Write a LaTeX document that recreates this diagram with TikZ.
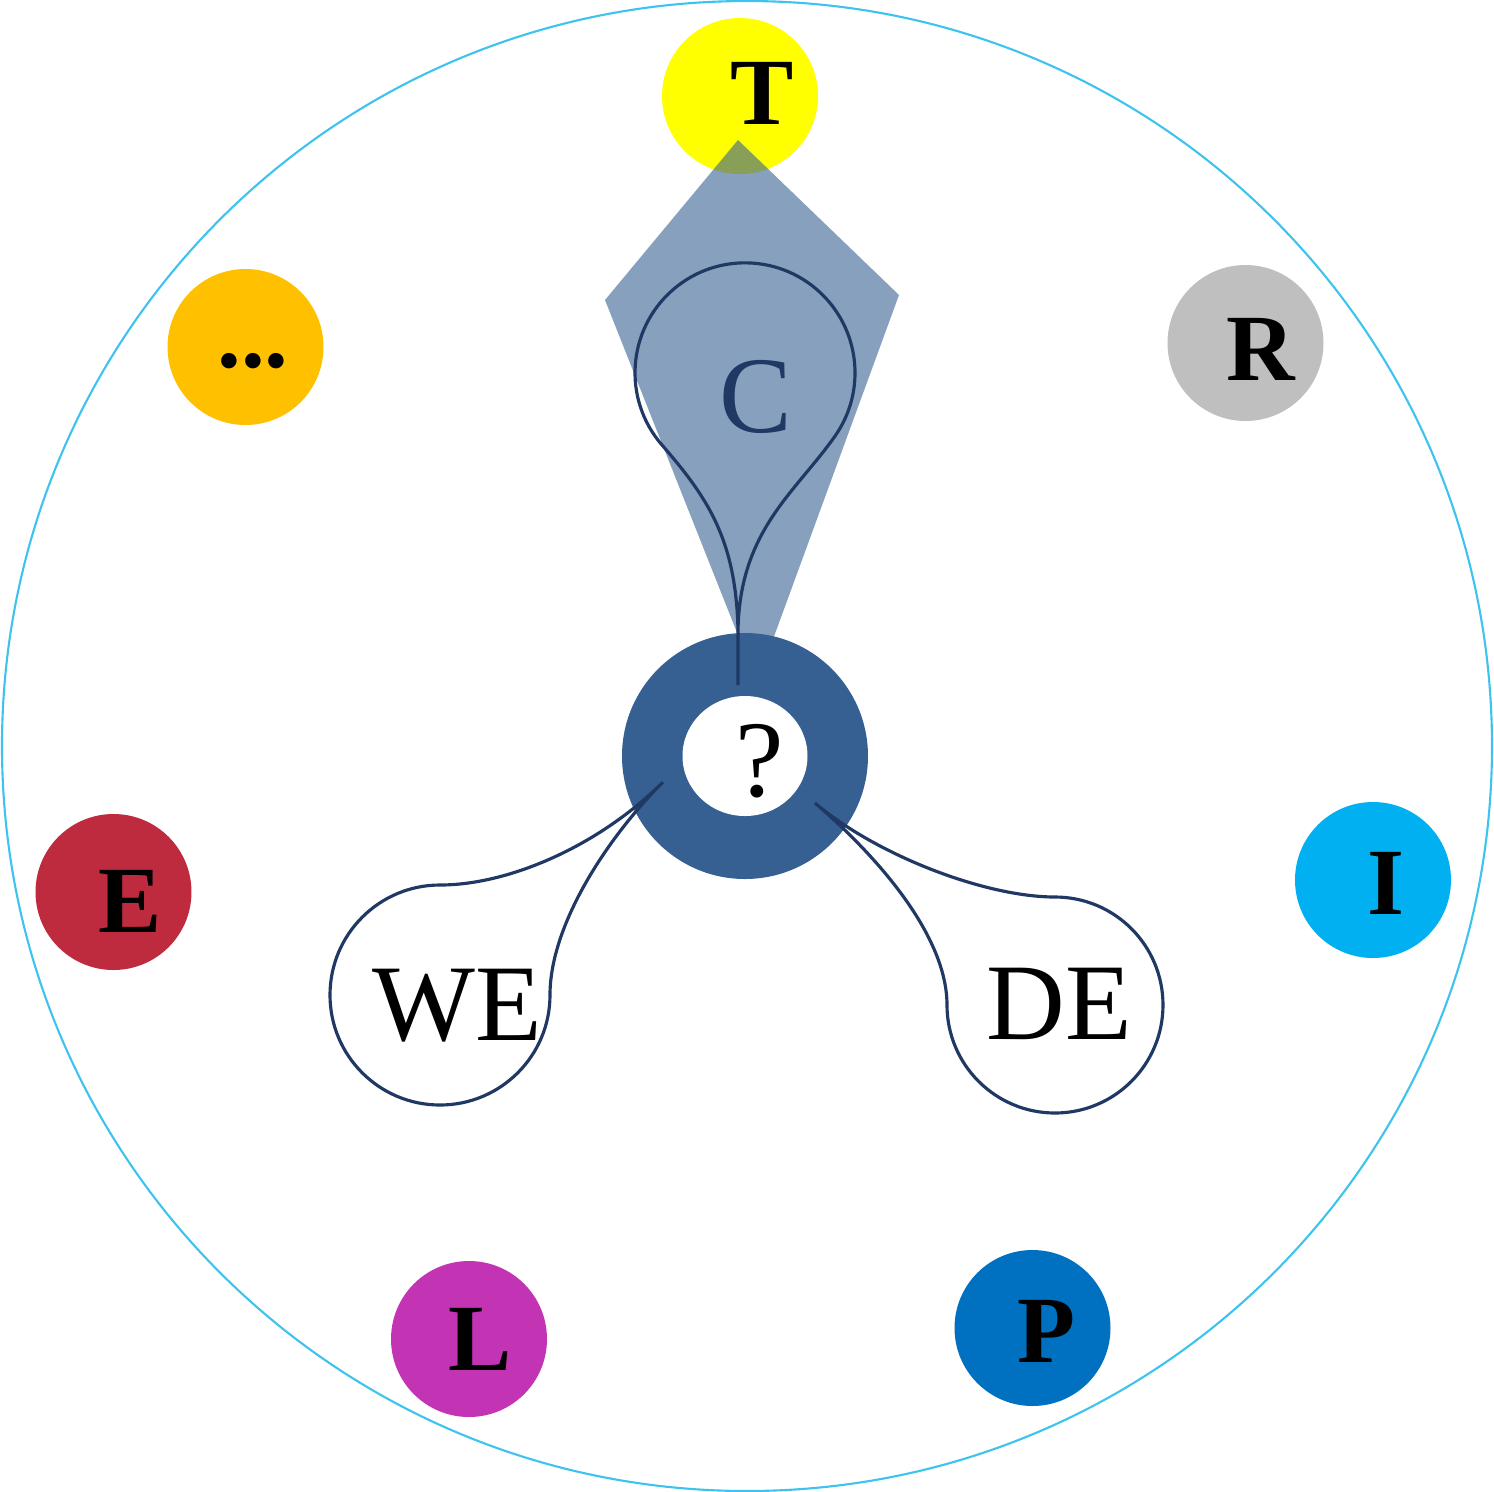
\documentclass[tikz,border=0pt]{standalone}
\usepackage{fontspec}
\setmainfont{Liberation Serif}
\usepackage{xcolor}
\usepackage{tikz}
\usetikzlibrary{positioning,shapes.geometric}
\definecolor{ringblue}{HTML}{376092}
\definecolor{inkblue}{HTML}{1F3864}
\definecolor{rimcyan}{HTML}{3EC3EE}
\definecolor{tyellow}{HTML}{FFFF00}
\definecolor{dotorange}{HTML}{FFC000}
\definecolor{rgray}{HTML}{BFBFBF}
\definecolor{icyan}{HTML}{00B0F0}
\definecolor{ered}{HTML}{BE2A3E}
\definecolor{lmagenta}{HTML}{C234B4}
\definecolor{pblue}{HTML}{0070C0}

\begin{document}
\begin{tikzpicture}[
    spot/.style={circle, inner sep=0pt, minimum size=1.56cm},
    letter/.style={font=\fontsize{27}{30}\selectfont\bfseries, inner sep=0pt, text depth=0pt},
    word/.style={font=\fontsize{31}{34}\selectfont, inner sep=0pt, text depth=0pt},
    bubble/.style={draw=inkblue, line width=0.9pt},
    kite/.style={fill=ringblue, fill opacity=0.6}
]
\useasboundingbox (0,0) rectangle (14.94,-14.91);
\draw[rimcyan, line width=0.6pt] (7.47,-7.46) circle (7.45);

\node[spot, fill=tyellow] (t) at (7.40,-0.96) {};
\node[spot, fill=dotorange] (more) at (2.455,-3.47) {};
\node[spot, fill=rgray] (r) at (12.455,-3.43) {};
\node[spot, fill=icyan] (i) at (13.73,-8.80) {};
\node[spot, fill=ered] (e) at (1.135,-8.92) {};
\node[spot, fill=lmagenta] (l) at (4.69,-13.39) {};
\node[spot, fill=pblue] (p) at (10.325,-13.28) {};

\node[letter] (tlab) at (7.625,-0.935) {T};
\node[letter] (morelab) at (2.53,-3.60) {...};
\node[letter] (rlab) at (12.61,-3.49) {R};
\node[letter] (ilab) at (13.86,-8.835) {I};
\node[letter] (elab) at (1.30,-9.01) {E};
\node[letter] (llab) at (4.80,-13.39) {L};
\node[letter] (plab) at (10.46,-13.31) {P};

\fill[kite] (7.38,-1.40) -- (6.05,-3.00) -- (7.57,-6.83) -- (8.99,-2.95) -- cycle;

\node[circle, fill=ringblue, minimum size=2.46cm, inner sep=0pt] (core) at (7.45,-7.56) {};
\node[ellipse, fill=white, minimum width=1.25cm, minimum height=1.20cm, inner sep=0pt] (hole) at (core) {};
\node[word] (ask) at (7.60,-7.60) {?};

\coordinate (ctip) at (7.38,-6.30);
\coordinate (cstem) at (7.38,-6.85);
\coordinate (wetip) at (6.63,-7.82);
\coordinate (detip) at (8.15,-8.03);

\draw[bubble] (ctip) .. controls (7.36,-5.4) and (7.08,-4.98) .. (6.62,-4.45)
    arc[start angle=221, end angle=-35, radius=1.10]
    .. controls (7.95,-4.93) and (7.40,-5.3) .. (ctip) -- (cstem);
\draw[bubble] (wetip) .. controls (6.0,-8.45) and (5.10,-8.85) .. (4.40,-8.85)
    arc[start angle=90, end angle=360, radius=1.10]
    .. controls (5.50,-9.25) and (6.07,-8.38) .. (wetip);
\draw[bubble] (detip) .. controls (8.76,-8.55) and (9.85,-8.97) .. (10.55,-8.97)
    arc[start angle=90, end angle=-180, radius=1.08]
    .. controls (9.47,-9.35) and (8.76,-8.55) .. (detip);

\node[word, text=inkblue] (clab) at (7.56,-3.96) {C};
\node[word] (welab) at (4.57,-10.05) {WE};
\node[word] (delab) at (10.59,-10.04) {DE};
\end{tikzpicture}
\end{document}
